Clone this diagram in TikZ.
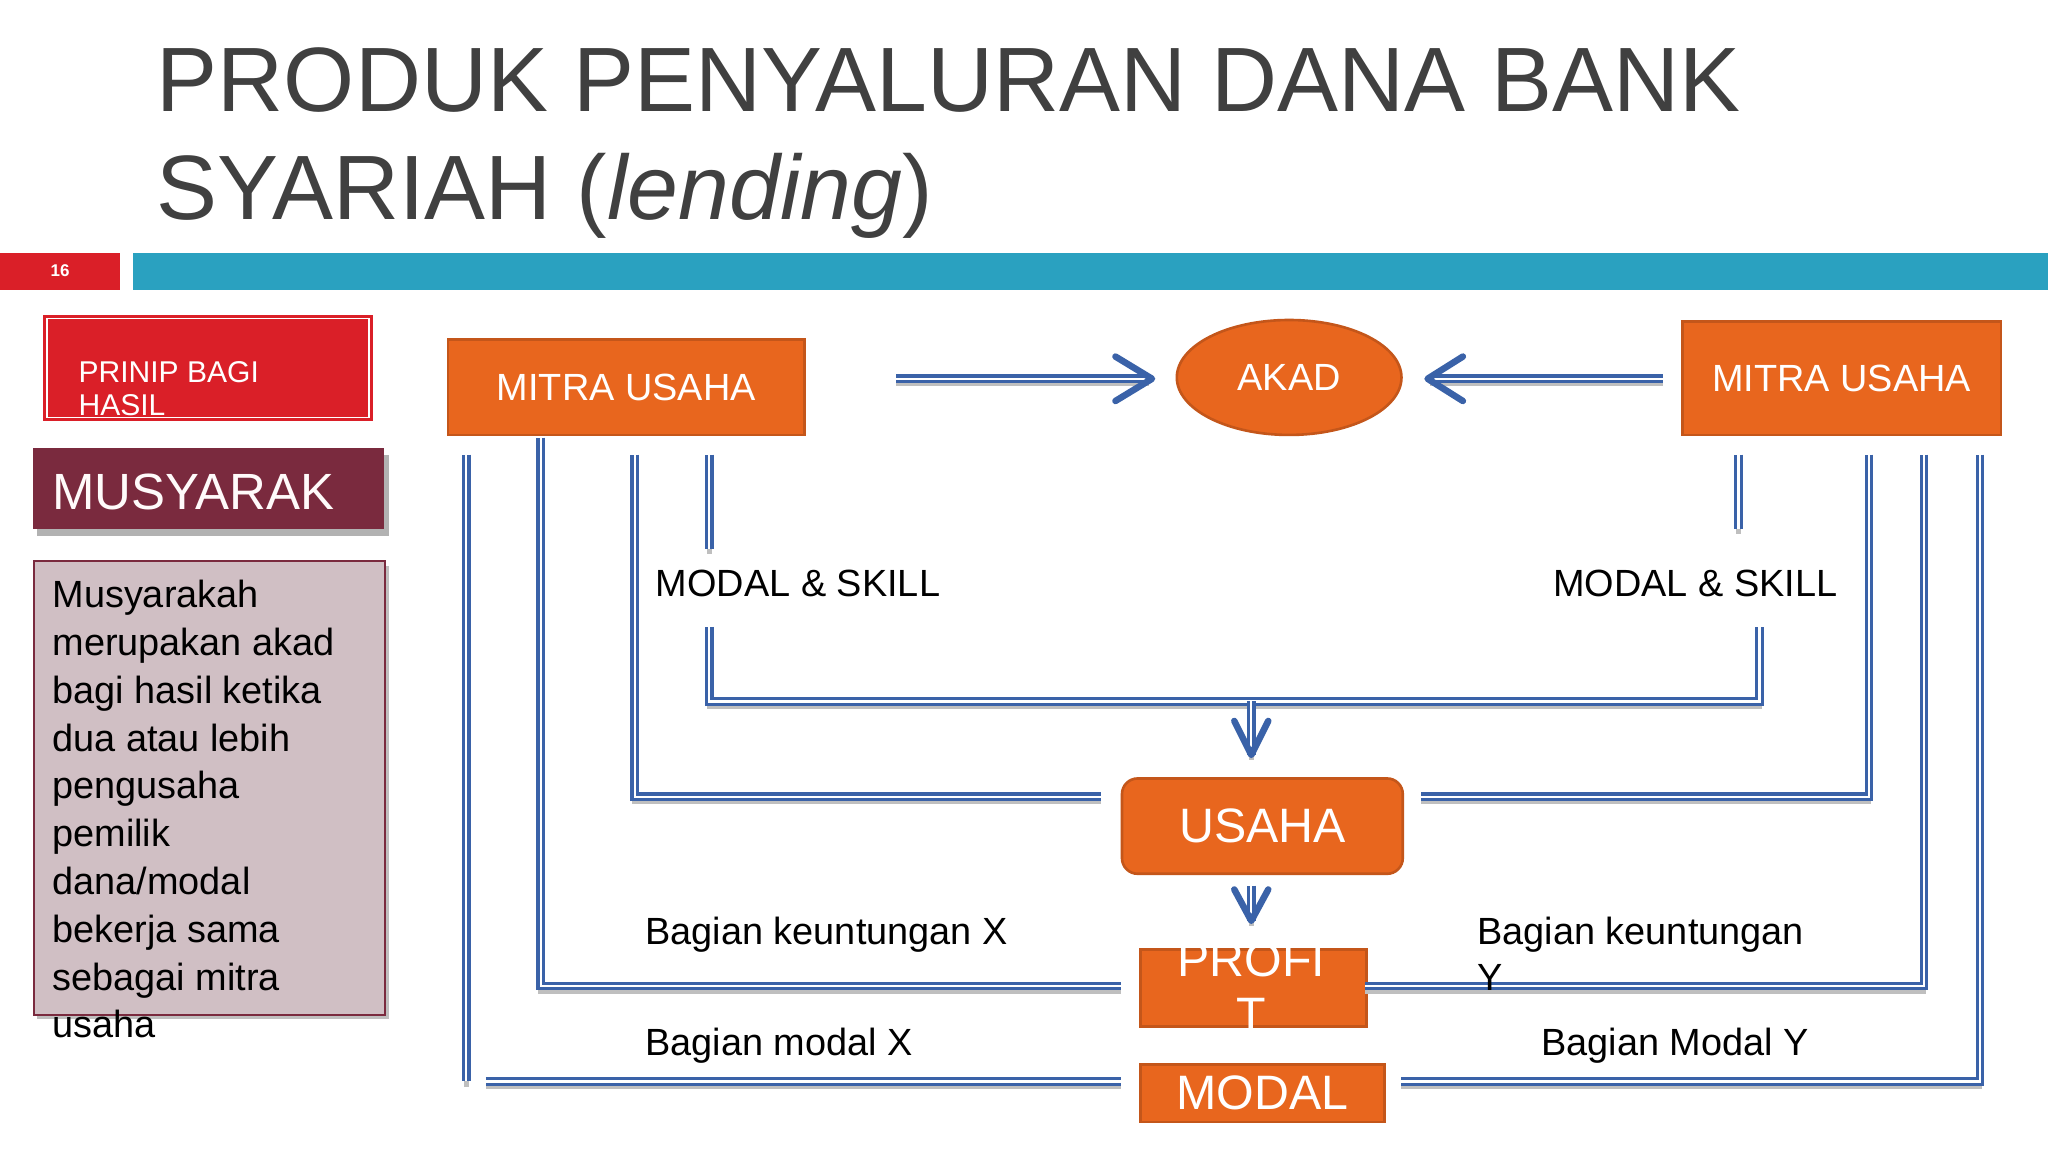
\documentclass[tikz,border=0pt]{standalone}
\usepackage{fontspec}
\setmainfont{Liberation Sans}
\usetikzlibrary{shapes.geometric,calc}
\definecolor{org}{HTML}{E8661E}
\definecolor{orgd}{HTML}{C4561A}
\definecolor{blu}{HTML}{3A62A8}
\definecolor{teal}{HTML}{2AA1C0}
\definecolor{redb}{HTML}{DA1F28}
\definecolor{maroon}{HTML}{7A2A3E}
\definecolor{pinkb}{HTML}{D0BFC4}
\definecolor{ttl}{HTML}{404040}
\tikzset{
  fs/.style={font=\fontsize{#1}{#1}\selectfont},
  obox/.style={draw=orgd,line width=2pt,fill=org,text=white,inner sep=0pt},
  dl/.style={draw=blu,line width=2.4pt,double=white,double distance=1.8pt},
  sh/.style={draw=black!25,line width=3.5pt,transform canvas={yshift=-4pt}},
  chev/.style={draw=blu,line width=5pt,line cap=round,line join=round},
  lbl/.style={anchor=base west,inner sep=0pt,fs=29}
}
\begin{document}
\begin{tikzpicture}[x=1pt,y=-1pt]
\useasboundingbox[fill=white] (0,0) rectangle (1568,882);
% title
\node[anchor=base west,inner sep=0pt,text=ttl,fs=70] (t1) at (120,85) {PRODUK PENYALURAN DANA BANK};
\node[anchor=base west,inner sep=0pt,text=ttl,fs=70] (t2) at (120,168) {SYARIAH (\textit{lending})};
\fill[redb] (0,194) rectangle (92,222);
\node[text=white,font=\fontsize{13}{13}\selectfont\bfseries] (num) at (46,207) {16};
\fill[teal] (102,194) rectangle (1568,222);
% left panel
\node[fill=redb,minimum width=252pt,minimum height=81pt,anchor=north west] (pb) at (33,241) {};
\draw[white,line width=1pt] ($(pb.north west)+(3,3)$) rectangle ($(pb.south east)+(-3,-3)$);
\node[anchor=base west,inner sep=0pt,text=white,fs=23] (pbt) at (60,293) {PRINIP BAGI};
\node[anchor=base west,inner sep=0pt,text=white,fs=23] (pbt2) at (60,318) {HASIL};
\fill[black!30] (28,348) rectangle (298,410);
\node[fill=maroon,minimum width=269pt,minimum height=62pt,anchor=north west] (mb) at (25,343) {};
\node[anchor=base west,inner sep=0pt,text=white!92!pink,fs=39] (mbt) at (40,390) {MUSYARAK};
\fill[black!25] (28,433) rectangle (298,780);
\node[draw=maroon,line width=1.5pt,fill=pinkb,minimum width=269pt,minimum height=347pt,anchor=north west] (db) at (25,429) {};
\node[anchor=north west,inner sep=0pt,align=left,font=\fontsize{29}{36.6}\selectfont] (dt) at (40,444) {Musyarakah\\merupakan akad\\bagi hasil ketika\\dua atau lebih\\pengusaha\\pemilik\\dana/modal\\bekerja sama\\sebagai mitra\\usaha};
% main nodes
\node[obox,minimum width=273pt,minimum height=73pt,anchor=north west,fs=29] (m1) at (342,259) {MITRA USAHA};
\node[obox,minimum width=244pt,minimum height=87pt,anchor=north west,fs=29] (m2) at (1287,245) {MITRA USAHA};
\node[obox,ellipse,minimum width=172pt,minimum height=88pt,fs=29] (akad) at (987,289) {AKAD};
\node[obox,rounded corners=12pt,minimum width=215pt,minimum height=73pt,anchor=north west,fs=37] (us) at (858,595) {USAHA};
\node[obox,minimum width=173pt,minimum height=59pt,anchor=north west] (pr) at (872,726) {};
\node[anchor=base,inner sep=0pt,text=white,fs=37] (prt) at (958,748) {PROFI};
\node[anchor=base,inner sep=0pt,text=white,fs=37] (prt2) at (958,790) {T};
\node[obox,minimum width=187pt,minimum height=44pt,anchor=north west,fs=37] (md) at (872,814) {MODAL};
% coordinates
\coordinate (a1) at (686,290); \coordinate (a1e) at (880,290);
\coordinate (a2) at (1273,290); \coordinate (a2e) at (1095,290);
\foreach \s in {sh,dl}{
 \draw[\s] (a1) -- (a1e);
 \draw[\s] (a2) -- (a2e);
 \draw[\s] (357,348) -- (357,828);
 \draw[\s] (414,335) -- (414,755) -- (858,755);
 \draw[\s] (486,348) -- (486,610) -- (843,610);
 \draw[\s] (543,348) -- (543,420);
 \draw[\s] (543,480) -- (543,537) -- (1347,537) -- (1347,480);
 \draw[\s] (1331,348) -- (1331,405);
 \draw[\s] (1431,348) -- (1431,610) -- (1088,610);
 \draw[\s] (1473,348) -- (1473,755) -- (1045,755);
 \draw[\s] (1516,348) -- (1516,828) -- (1073,828);
 \draw[\s] (372,828) -- (858,828);
 \draw[\s] (958,537) -- (958,578);
 \draw[\s] (958,678) -- (958,705);
}
\draw[chev] (854,273) -- (882,290) -- (854,307);
\draw[chev] (1120,273) -- (1093,290) -- (1120,307);
\draw[chev] (945,552) -- (958,578) -- (971,552);
\draw[chev] (945,681) -- (958,705) -- (971,681);
% labels
\node[lbl] (l1) at (502,457) {MODAL \& SKILL};
\node[lbl] (l2) at (1189,457) {MODAL \& SKILL};
\node[lbl] (l3) at (494,723) {Bagian keuntungan X};
\node[lbl] (l4) at (1131,723) {Bagian keuntungan};
\node[lbl] (l5) at (1131,758) {Y};
\node[lbl] (l6) at (494,808) {Bagian modal X};
\node[lbl] (l7) at (1180,808) {Bagian Modal Y};
\end{tikzpicture}
\end{document}
